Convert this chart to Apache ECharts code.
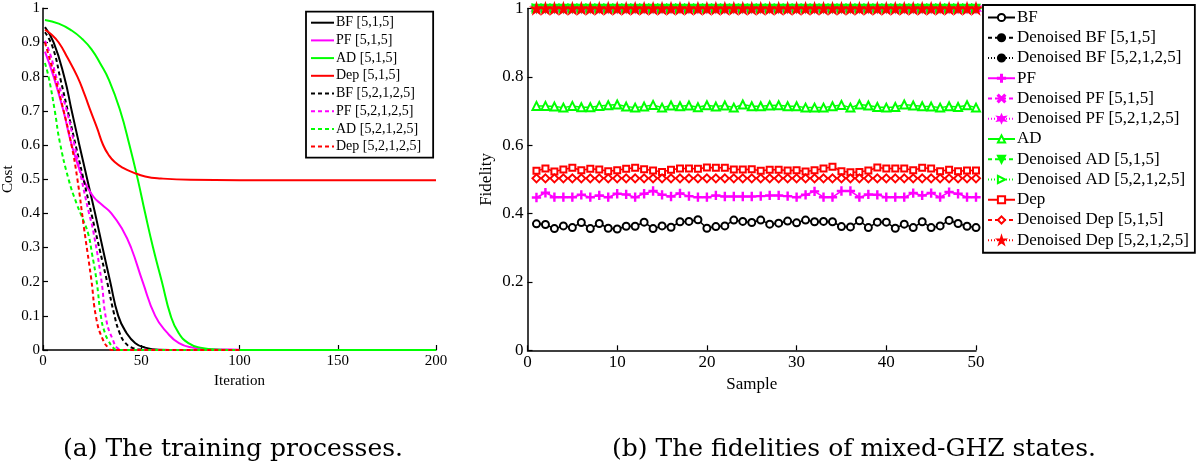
<!DOCTYPE html>
<html>
<head>
<meta charset="utf-8">
<script src="https://cdn.jsdelivr.net/npm/echarts@6/dist/echarts.min.js"></script>
<style>
html,body{margin:0;padding:0;background:#fff;}
#chart{width:1200px;height:465px;}
</style>
</head>
<body>
<div id="chart"></div>
<script>
// ---------- (a) training processes: [iteration, cost] ----------
const bf515 = [[1,0.945],[5.4,0.90],[10.8,0.80],[14.6,0.70],[18.5,0.60],[22.5,0.50],[26.5,0.40],[30.3,0.30],[34.2,0.20],[38.3,0.10],[42.5,0.05],[47,0.02],[52,0.007],[59,0.001],[70,0],[100,0]];
const pf515 = [[1,0.873],[5.4,0.80],[10.4,0.70],[14.6,0.60],[20.5,0.50],[25.5,0.45],[30,0.425],[34.8,0.40],[40.7,0.35],[44.8,0.30],[50.7,0.20],[57.1,0.10],[63.3,0.05],[69.2,0.02],[76,0.007],[85,0.002],[100,0.001],[130,0]];
const ad515 = [[1,0.966],[8,0.955],[14.6,0.935],[20,0.91],[24.7,0.88],[29,0.84],[33.6,0.79],[39.3,0.70],[44,0.60],[48.2,0.50],[52,0.40],[56,0.30],[60.5,0.20],[65,0.10],[69,0.05],[74,0.02],[80,0.007],[90,0.001],[100,0],[200,0]];
const dep515 = [[1,0.937],[4,0.925],[8,0.90],[12.5,0.855],[17.5,0.80],[21,0.75],[24.2,0.70],[27.5,0.65],[30.6,0.60],[33.5,0.57],[36.5,0.55],[41,0.532],[45.7,0.52],[52,0.508],[60,0.502],[75,0.498],[100,0.497],[200,0.497]];
const bf52125 = [[1,0.93],[5,0.885],[9,0.79],[13,0.69],[17,0.59],[21,0.49],[25,0.39],[29,0.29],[33,0.19],[36,0.11],[39,0.05],[42,0.02],[46,0.005],[50,0.001],[60,0],[100,0]];
const pf52125 = [[1,0.905],[4,0.86],[6.7,0.80],[12.1,0.70],[16,0.60],[19.6,0.50],[23,0.41],[25.5,0.35],[29.7,0.205],[32.2,0.088],[35.6,0.029],[38,0.005],[41,0],[100,0]];
const ad52125 = [[1,0.84],[3,0.795],[6,0.70],[8.5,0.61],[13,0.50],[17,0.43],[20.5,0.38],[23,0.34],[25,0.28],[27.2,0.205],[29.7,0.09],[31.5,0.05],[33.1,0.029],[36,0.005],[38,0],[100,0]];
const dep52125 = [[1,0.90],[3,0.86],[6,0.80],[10.5,0.70],[14.5,0.60],[17.5,0.50],[20.8,0.36],[24.5,0.21],[27.2,0.09],[30.5,0.03],[33,0.008],[35,0],[100,0]];

// ---------- (b) fidelities, samples 1..50 ----------
const samples = [1,2,3,4,5,6,7,8,9,10,11,12,13,14,15,16,17,18,19,20,21,22,23,24,25,26,27,28,29,30,31,32,33,34,35,36,37,38,39,40,41,42,43,44,45,46,47,48,49,50];
const fidBF = [0.370,0.368,0.356,0.364,0.359,0.374,0.356,0.371,0.357,0.355,0.363,0.363,0.375,0.356,0.364,0.360,0.376,0.377,0.382,0.357,0.362,0.364,0.381,0.377,0.374,0.381,0.369,0.372,0.378,0.373,0.381,0.376,0.377,0.376,0.362,0.361,0.379,0.359,0.375,0.375,0.357,0.369,0.359,0.376,0.359,0.364,0.380,0.371,0.363,0.359];
const fidPF = [0.447,0.461,0.448,0.448,0.448,0.455,0.448,0.453,0.448,0.458,0.456,0.448,0.458,0.466,0.455,0.450,0.459,0.451,0.448,0.448,0.453,0.450,0.450,0.450,0.450,0.451,0.453,0.453,0.451,0.448,0.455,0.465,0.448,0.448,0.466,0.466,0.448,0.456,0.455,0.448,0.448,0.448,0.460,0.453,0.460,0.448,0.463,0.458,0.448,0.448];
const fidAD = [0.715,0.715,0.713,0.710,0.715,0.711,0.711,0.715,0.717,0.719,0.713,0.710,0.713,0.718,0.710,0.716,0.714,0.716,0.711,0.717,0.713,0.716,0.710,0.719,0.714,0.714,0.716,0.717,0.714,0.714,0.710,0.710,0.710,0.714,0.718,0.710,0.719,0.716,0.712,0.710,0.712,0.719,0.716,0.714,0.713,0.710,0.714,0.712,0.717,0.710];
const fidDep = [0.525,0.532,0.523,0.529,0.534,0.527,0.531,0.529,0.524,0.527,0.531,0.534,0.530,0.526,0.522,0.528,0.532,0.532,0.531,0.535,0.534,0.534,0.529,0.529,0.530,0.525,0.528,0.528,0.526,0.527,0.523,0.527,0.532,0.537,0.524,0.521,0.522,0.526,0.535,0.532,0.532,0.532,0.527,0.534,0.532,0.524,0.528,0.524,0.526,0.526];
const fidDenDep515 = [0.503,0.503,0.503,0.503,0.503,0.503,0.503,0.503,0.503,0.503,0.503,0.503,0.503,0.503,0.503,0.503,0.503,0.503,0.503,0.503,0.503,0.503,0.503,0.503,0.503,0.503,0.503,0.503,0.503,0.503,0.503,0.503,0.503,0.503,0.503,0.503,0.503,0.503,0.503,0.503,0.503,0.503,0.503,0.503,0.503,0.503,0.503,0.503,0.503,0.503];
const fidDenoised = [1,1,1,1,1,1,1,1,1,1,1,1,1,1,1,1,1,1,1,1,1,1,1,1,1,1,1,1,1,1,1,1,1,1,1,1,1,1,1,1,1,1,1,1,1,1,1,1,1,1,1];

const captionA = '(a) The training processes.';
const captionB = '(b) The fidelities of mixed-GHZ states.';

const FONT = 'Liberation Serif';
const CAPFONT = 'DejaVu Serif';
const BLACK='#000000', MAG='#ff00ff', GRN='#00ff00', RED='#ff0000';

const SYM_PLUS = 'path://M4.3,0H5.7V4.3H10V5.7H5.7V10H4.3V5.7H0V4.3H4.3Z';
const SYM_X = 'path://M1.2,0L5,3.8L8.8,0L10,1.2L6.2,5L10,8.8L8.8,10L5,6.2L1.2,10L0,8.8L3.8,5L0,1.2Z';
const SYM_STAR6 = 'path://M5,0L6.2,3L9.3,2.5L7.3,5L9.3,7.5L6.2,7L5,10L3.8,7L0.7,7.5L2.7,5L0.7,2.5L3.8,3Z';
const SYM_STAR5 = 'path://M5,0L6.18,3.6L10,3.6L6.9,5.85L8.1,9.5L5,7.25L1.9,9.5L3.1,5.85L0,3.6L3.82,3.6Z';

function pair(xs, ys){ return xs.map((x,i)=>[x, ys[i]]); }

function leftLine(name, data, color, dashed){
  return {
    name, type:'line', xAxisIndex:0, yAxisIndex:0, data,
    smooth:0.5, symbol:'none', showSymbol:false,
    lineStyle:{color, width:2, type: dashed ? [4,3] : 'solid'},
    itemStyle:{color},
    animation:false, z:2
  };
}
function rightLine(name, data, color, lineType, symbol, symbolSize, extra){
  return Object.assign({
    name, type:'line', xAxisIndex:1, yAxisIndex:1, data: pair(samples, data),
    symbol, symbolSize, showSymbol:true, clip:false,
    lineStyle:{color, width:1.5, type:lineType},
    itemStyle:{color: color, borderColor:color, borderWidth:1.3},
    animation:false, z:3
  }, extra||{});
}

const axisCommon = {
  axisLine:{show:true, onZero:false, lineStyle:{color:BLACK, width:1.5}},
  axisTick:{show:true, inside:true, length:5, lineStyle:{color:BLACK, width:1.2}},
  splitLine:{show:false}
};

const option = {
  backgroundColor:'#ffffff',
  animation:false,
  title:[
    {text:captionA, left:228, top:432, textAlign:'center',
     textStyle:{fontFamily:CAPFONT, fontSize:25, fontWeight:'normal', color:BLACK}},
    {text:captionB, left:849, top:432, textAlign:'center',
     textStyle:{fontFamily:CAPFONT, fontSize:25, fontWeight:'normal', color:BLACK}}
  ],
  grid:[
    {left:39.3, top:8.3, width:396.7, height:341.7, containLabel:false},
    {left:527.5, top:5, width:448.5, height:345.3, containLabel:false}
  ],
  xAxis:[
    Object.assign({}, axisCommon, {gridIndex:0, type:'value', min:0, max:200, interval:50,
      name:'Iteration', nameLocation:'middle', nameGap:19,
      nameTextStyle:{color:BLACK, fontFamily:FONT, fontSize:15},
      axisLabel:{color:BLACK, fontFamily:FONT, fontSize:15, margin:4}}),
    Object.assign({}, axisCommon, {gridIndex:1, type:'value', min:0, max:50, interval:10,
      name:'Sample', nameLocation:'middle', nameGap:21,
      nameTextStyle:{color:BLACK, fontFamily:FONT, fontSize:17},
      axisLabel:{color:BLACK, fontFamily:FONT, fontSize:17, margin:4}})
  ],
  yAxis:[
    Object.assign({}, axisCommon, {gridIndex:0, type:'value', min:0, max:1, interval:0.1,
      name:'Cost', nameLocation:'middle', nameGap:27, nameRotate:90,
      nameTextStyle:{color:BLACK, fontFamily:FONT, fontSize:15},
      axisLabel:{color:BLACK, fontFamily:FONT, fontSize:15, margin:3}}),
    Object.assign({}, axisCommon, {gridIndex:1, type:'value', min:0, max:1, interval:0.2,
      name:'Fidelity', nameLocation:'middle', nameGap:32, nameRotate:90,
      nameTextStyle:{color:BLACK, fontFamily:FONT, fontSize:17},
      axisLabel:{color:BLACK, fontFamily:FONT, fontSize:17, margin:4}})
  ],
  legend:[
    {
      left:306, top:11.7, orient:'vertical', padding:[4,12,4,4],
      itemWidth:23, itemHeight:12, itemGap:3.7,
      itemStyle:{opacity:0},
      backgroundColor:'#ffffff', borderColor:BLACK, borderWidth:1.8, borderRadius:0,
      textStyle:{fontFamily:FONT, fontSize:14, color:BLACK, lineHeight:14, padding:[0,0,0,-3]},
      data:['BF [5,1,5]','PF [5,1,5]','AD [5,1,5]','Dep [5,1,5]','BF [5,2,1,2,5]','PF [5,2,1,2,5]','AD [5,2,1,2,5]','Dep [5,2,1,2,5]'],
      selectedMode:false
    },
    {
      left:983, top:5, orient:'vertical', padding:[4,6,4,4],
      itemWidth:27, itemHeight:9, itemGap:3.25,
      backgroundColor:'#ffffff', borderColor:BLACK, borderWidth:1.8, borderRadius:0,
      textStyle:{fontFamily:FONT, fontSize:17, color:BLACK, lineHeight:17, padding:[0,0,0,-3]},
      data:['BF','Denoised BF [5,1,5]','Denoised BF [5,2,1,2,5]','PF','Denoised PF [5,1,5]','Denoised PF [5,2,1,2,5]','AD','Denoised AD [5,1,5]','Denoised AD [5,2,1,2,5]','Dep','Denoised Dep [5,1,5]','Denoised Dep [5,2,1,2,5]'],
      selectedMode:false
    }
  ],
  series:[
    leftLine('BF [5,1,5]', bf515, BLACK, false),
    leftLine('PF [5,1,5]', pf515, MAG, false),
    leftLine('AD [5,1,5]', ad515, GRN, false),
    leftLine('Dep [5,1,5]', dep515, RED, false),
    leftLine('BF [5,2,1,2,5]', bf52125, BLACK, true),
    leftLine('PF [5,2,1,2,5]', pf52125, MAG, true),
    leftLine('AD [5,2,1,2,5]', ad52125, GRN, true),
    leftLine('Dep [5,2,1,2,5]', dep52125, RED, true),

    rightLine('BF', fidBF, BLACK, 'solid', 'emptyCircle', 7),
    rightLine('Denoised BF [5,1,5]', fidDenoised, BLACK, [4,3], 'circle', 4),
    rightLine('Denoised BF [5,2,1,2,5]', fidDenoised, BLACK, [1,2], 'circle', 2),
    rightLine('PF', fidPF, MAG, 'solid', SYM_PLUS, 8),
    rightLine('Denoised PF [5,1,5]', fidDenoised, MAG, [4,3], SYM_X, 7),
    rightLine('Denoised PF [5,2,1,2,5]', fidDenoised, MAG, [1,2], SYM_STAR6, 9),
    rightLine('AD', fidAD, GRN, 'solid', 'emptyTriangle', 8),
    rightLine('Denoised AD [5,1,5]', fidDenoised, GRN, [4,3], 'triangle', 8, {symbolRotate:180}),
    rightLine('Denoised AD [5,2,1,2,5]', fidDenoised, GRN, [1,2], 'emptyTriangle', 8, {symbolRotate:-90}),
    rightLine('Dep', fidDep, RED, 'solid', 'emptyRect', 6),
    rightLine('Denoised Dep [5,1,5]', fidDenDep515, RED, [4,3], 'emptyDiamond', 8),
    rightLine('Denoised Dep [5,2,1,2,5]', fidDenoised, RED, [1,2], SYM_STAR5, 11)
  ]
};

const chart = echarts.init(document.getElementById('chart'), null, {renderer:'canvas'});
chart.setOption(option);
</script>
</body>
</html>
